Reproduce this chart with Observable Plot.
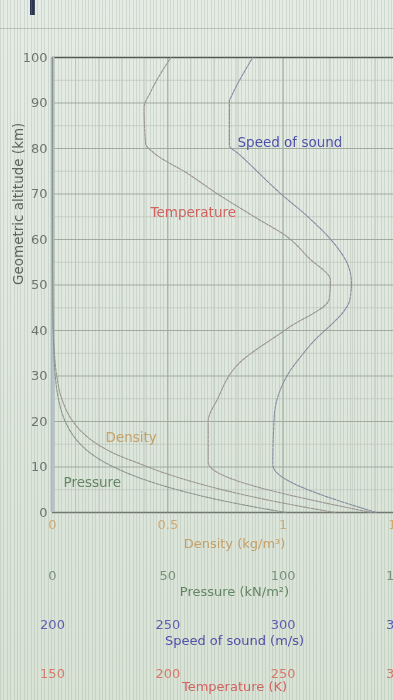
<!DOCTYPE html>
<html><head><meta charset="utf-8">
<script src="https://cdn.jsdelivr.net/npm/d3@7"></script>
<script src="https://cdn.jsdelivr.net/npm/@observablehq/plot@0.6"></script>
<style>
html,body{margin:0;padding:0;background:#dfe7de;overflow:hidden;}
#wrap{position:relative;width:393px;height:700px;overflow:hidden;background:linear-gradient(#e5ece5,#d8e2d5);font-family:"DejaVu Sans";filter:blur(0.4px);}
#wrap svg{position:absolute;left:0;top:0;}
#moire{position:absolute;left:0;top:0;width:393px;height:700px;pointer-events:none;background:repeating-linear-gradient(90deg, rgba(140,156,140,0.24) 0px, rgba(140,156,140,0.24) 1px, rgba(255,255,255,0) 1px, rgba(255,255,255,0) 3.4px);}
#topline{position:absolute;left:0;width:393px;top:28px;height:1px;background:#bcc4bc;}
#mark{position:absolute;left:30px;top:0;width:5px;height:15px;background:#2b3550;}
</style></head><body><div id="wrap"><div id="topline"></div><div id="mark"></div></div>
<script>
// ---- tick values ----
const altTicks = [0, 10, 20, 30, 40, 50, 60, 70, 80, 90, 100];
const altMinor = [5, 15, 25, 35, 45, 55, 65, 75, 85, 95];
const altMajorGrid = [10, 20, 30, 40, 50, 60, 70, 80, 90];
const densityTicks = [0, 0.5, 1, 1.5];
const densityMinor = [0.1, 0.2, 0.3, 0.4, 0.6, 0.7, 0.8, 0.9, 1.1, 1.2, 1.3, 1.4];
const densityMajor = [0.5, 1];
const pressureTicks = [0, 50, 100, 150];
const speedTicks = [200, 250, 300, 350];
const temperatureTicks = [150, 200, 250, 300];

// ---- series (altitude in km) ----
const stdAltitude = [0, 1, 2, 3, 4, 5, 6, 7, 8, 9, 10, 11, 12, 14, 16, 18, 20, 25, 30, 35, 40, 50, 60, 70, 80, 90, 100];
const pressure = [101.325, 89.88, 79.50, 70.12, 61.66, 54.05, 47.22, 41.11, 35.65, 30.80, 26.50, 22.70, 19.40, 14.17, 10.35, 7.565, 5.529, 2.549, 1.197, 0.5746, 0.2871, 0.0798, 0.0220, 0.0052, 0.00105, 0.00018, 0.00003];
const density = [1.225, 1.112, 1.007, 0.9093, 0.8194, 0.7364, 0.6601, 0.5900, 0.5258, 0.4671, 0.4135, 0.3648, 0.3119, 0.2279, 0.1665, 0.1216, 0.0889, 0.0401, 0.0184, 0.00846, 0.0040, 0.00103, 0.00031, 0.0000828, 0.0000185, 0.0000034, 0.0000006];
const tempAltitude = [0, 11, 20, 25, 32.5, 40.5, 47, 51, 56, 60.5, 65, 70, 74.5, 79, 81, 89, 92.5, 100];
const temperature = [288.2, 217.5, 217.5, 221.6, 230.3, 252, 270, 270.5, 261, 252, 237.5, 221.6, 208.6, 194, 190.4, 189.7, 192.6, 201.3];
const soundAltitude = [0, 10.5, 21.5, 30.3, 36.2, 47, 50.5, 54.5, 59, 65, 70, 79, 80.6, 90.5, 91.3, 100];
const speedOfSound = [340.3, 295.5, 296.2, 302, 310.7, 329, 329.6, 328, 322.3, 310.7, 299.1, 280.3, 276.7, 276.7, 277.4, 286.8];

const toRows = (alts, vals) => alts.map((a, i) => ({alt: a, v: vals[i]}));

// ---- layout ----
const W = 440, H = 700, ML = 52, MR = 42, MT = 57, MB = 188;
const FONT = "DejaVu Sans";
const svgStyle = {background: "transparent", maxWidth: "none", overflow: "visible", fontFamily: FONT, fontSize: "13px"};
const wrap = document.getElementById("wrap");

// base plot: grid, frame, y axis
const base = Plot.plot({
  width: W, height: H, marginLeft: ML, marginRight: MR, marginTop: MT, marginBottom: MB,
  style: svgStyle,
  x: {domain: [0, 1.5], axis: null},
  y: {domain: [0, 100]},
  marks: [
    Plot.ruleY(altMinor, {stroke: "#c8d0c7", strokeWidth: 1}),
    Plot.ruleX(densityMinor, {stroke: "#c9d1c8", strokeWidth: 1}),
    Plot.ruleX(densityMajor, {stroke: "#a9b3a8", strokeWidth: 1.2}),
    Plot.ruleY(altMajorGrid, {stroke: "#a2aca1", strokeWidth: 1.1}),
    Plot.ruleY([100], {stroke: "#4d554d", strokeWidth: 1.6}),
    Plot.ruleY([0], {stroke: "#6d756e", strokeWidth: 1.5}),
    Plot.ruleX([0], {stroke: "#b6c1cb", strokeWidth: 4}),
    Plot.axisY(altTicks, {tickSize: 0, tickPadding: 5, fontSize: 13, color: "#6b736b", label: null}),
    Plot.text(["Geometric altitude (km)"], {frameAnchor: "left", rotate: -90, dx: -34, fill: "#58615b", fontSize: 13.5})
  ]
});
wrap.appendChild(base);

const series = [
  {rows: toRows(stdAltitude, density), domain: [0, 1.5], ticks: densityTicks, name: "Density", title: "Density (kg/m³)",
   color: "#c9a066", tickColor: "#d2aa74", line: "#9c968a", pad: 7, titleDy: 31, ldx: 53, ldy: 380},
  {rows: toRows(stdAltitude, pressure), domain: [0, 150], ticks: pressureTicks, name: "Pressure", title: "Pressure (kN/m²)",
   color: "#5f8460", tickColor: "#7a927a", line: "#8a958b", pad: 58, titleDy: 79, ldx: 11, ldy: 425},
  {rows: toRows(soundAltitude, speedOfSound), domain: [200, 350], ticks: speedTicks, name: "Speed of sound", title: "Speed of sound (m/s)",
   color: "#4b4bab", tickColor: "#5a5ab2", line: "#868ba6", pad: 107, titleDy: 128, ldx: 185, ldy: 85},
  {rows: toRows(tempAltitude, temperature), domain: [150, 300], ticks: temperatureTicks, name: "Temperature", title: "Temperature (K)",
   color: "#d65e5c", tickColor: "#d97868", line: "#9c9393", pad: 156, titleDy: 174, ldx: 98, ldy: 155}
];

for (const s of series) {
  const p = Plot.plot({
    width: W, height: H, marginLeft: ML, marginRight: MR, marginTop: MT, marginBottom: MB,
    style: svgStyle,
    x: {domain: s.domain},
    y: {domain: [0, 100], axis: null},
    marks: [
      Plot.line(s.rows, {x: "v", y: "alt", stroke: s.line, strokeWidth: 1.1, strokeDasharray: "3,1.2", curve: "monotone-y"}),
      Plot.text([s.name], {frameAnchor: "top-left", textAnchor: "start", lineAnchor: "middle", dx: s.ldx, dy: s.ldy, fill: s.color, fontSize: 13.5}),
      Plot.axisX(s.ticks, {anchor: "bottom", tickSize: 0, tickPadding: s.pad, fontSize: 13, color: s.tickColor, tickFormat: d => `${d}`, label: null}),
      Plot.text([s.title], {frameAnchor: "bottom", lineAnchor: "middle", dx: 9, dy: s.titleDy, fill: s.color, fontSize: 13})
    ]
  });
  wrap.appendChild(p);
}

const moire = document.createElement("div");
moire.id = "moire";
wrap.appendChild(moire);
</script></body></html>
